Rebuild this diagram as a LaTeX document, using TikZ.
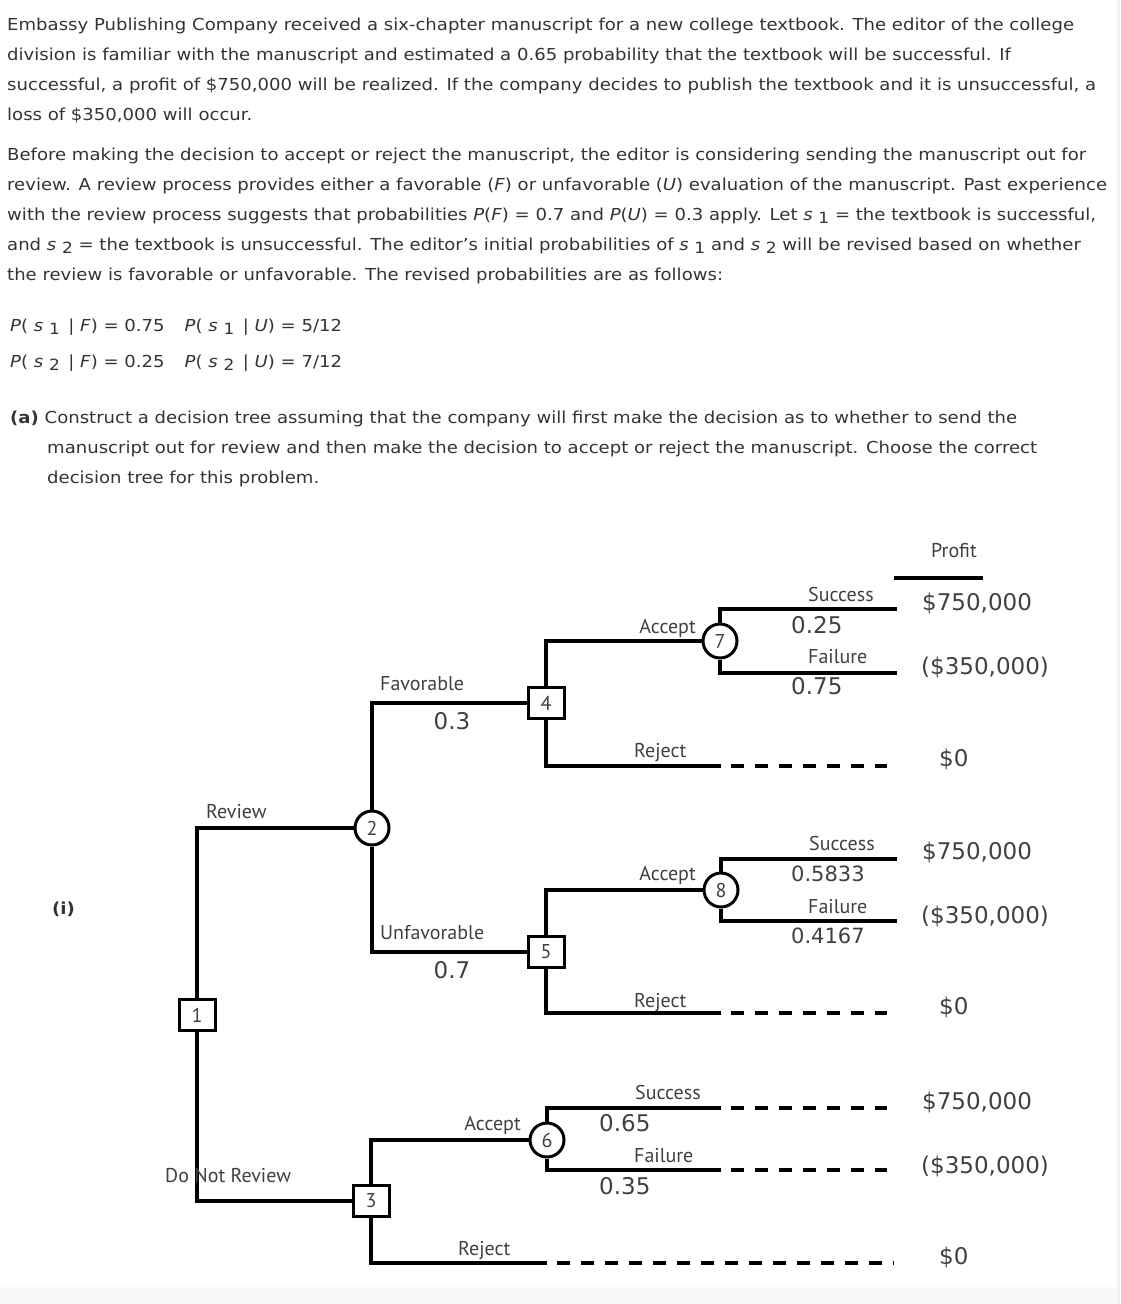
\documentclass[tikz,border=0pt]{standalone}
\usepackage{fontspec}
\setmainfont{DejaVu Sans}[FakeStretch=1.095]
\newfontfamily\numfont{DejaVu Sans}
\newfontfamily\lblfont{PT Sans}
\usetikzlibrary{positioning, calc}
\definecolor{cTxt}{RGB}{51,51,51}
\definecolor{cLbl}{RGB}{64,64,64}
\newcommand\subidx[1]{\raisebox{-3pt}{\fontsize{15.5}{15.5}\selectfont #1}}

\begin{document}
\begin{tikzpicture}[x=1pt, y=-1pt,
    body/.style={anchor=base west, inner sep=0pt, text=cTxt, font=\fontsize{16.5}{20}\selectfont},
    decision/.style={draw, rectangle, line width=3pt, minimum width=36pt, minimum height=31pt,
                     inner sep=0pt, fill=white, text=cLbl, font=\lblfont\fontsize{20}{20}\selectfont},
    chance/.style={draw, circle, line width=3pt, minimum size=34pt, inner sep=0pt,
                   fill=white, text=cLbl, font=\lblfont\fontsize{20}{20}\selectfont},
    branch/.style={line width=3.2pt},
    tail/.style={line width=3.2pt, dash pattern=on 13pt off 11pt},
    lbl/.style={inner sep=0pt, text=cLbl, text height=14pt, text depth=4pt, font=\lblfont\fontsize{20}{20}\selectfont},
    num/.style={inner sep=0pt, text=cLbl, text height=17pt, text depth=4pt, font=\numfont\fontsize{23}{23}\selectfont}]

    \useasboundingbox (0,0) rectangle (1120,1304);
    \fill[gray!5] (0,1287) rectangle (1120,1304);
    \fill[gray!10] (1117,0) rectangle (1120,1304);

    % Problem text
    \node[body] (t1) at (7,30) {Embassy Publishing Company received a six-chapter manuscript for a new college textbook. The editor of the college};
    \node[body] (t2) at (7,60) {division is familiar with the manuscript and estimated a 0.65 probability that the textbook will be successful. If};
    \node[body] (t3) at (7,90) {successful, a profit of \$750,000 will be realized. If the company decides to publish the textbook and it is unsuccessful, a};
    \node[body] (t4) at (7,120) {loss of \$350,000 will occur.};
    \node[body] (t5) at (7,160) {Before making the decision to accept or reject the manuscript, the editor is considering sending the manuscript out for};
    \node[body] (t6) at (7,190) {review. A review process provides either a favorable (\textit{F}) or unfavorable (\textit{U}) evaluation of the manuscript. Past experience};
    \node[body] (t7) at (7,220) {with the review process suggests that probabilities \textit{P}(\textit{F}) = 0.7 and \textit{P}(\textit{U}) = 0.3 apply. Let \textit{s} \subidx{1} = the textbook is successful,};
    \node[body] (t8) at (7,250) {and \textit{s} \subidx{2} = the textbook is unsuccessful. The editor’s initial probabilities of \textit{s} \subidx{1} and \textit{s} \subidx{2} will be revised based on whether};
    \node[body] (t9) at (7,280) {the review is favorable or unfavorable. The revised probabilities are as follows:};

    \node[body] (p1) at (10,331) {\textit{P}( \textit{s} \subidx{1} \,| \textit{F}) = 0.75\hspace{20pt}\textit{P}( \textit{s} \subidx{1} \,| \textit{U}) = 5/12};
    \node[body] (p2) at (10,367) {\textit{P}( \textit{s} \subidx{2} \,| \textit{F}) = 0.25\hspace{20pt}\textit{P}( \textit{s} \subidx{2} \,| \textit{U}) = 7/12};

    \node[body] (q1) at (10,423) {\textbf{(a)} Construct a decision tree assuming that the company will first make the decision as to whether to send the};
    \node[body] (q2) at (47,453) {manuscript out for review and then make the decision to accept or reject the manuscript. Choose the correct};
    \node[body] (q3) at (47,483) {decision tree for this problem.};

    \node[body, anchor=west] (opt) at (52,909) {\textbf{(i)}};

    % Decision and chance nodes
    \node[decision] (n1) at (197,1015) {1};
    \node[chance]   (n2) at (372,828)  {2};
    \node[decision] (n3) at (371,1201) {3};
    \node[decision] (n4) at (546,703)  {4};
    \node[decision] (n5) at (546,952)  {5};
    \node[chance]   (n6) at (547,1140) {6};
    \node[chance]   (n7) at (720,641)  {7};
    \node[chance]   (n8) at (721,890)  {8};

    % Branch end points
    \coordinate (s7) at (897,609);
    \coordinate (f7) at (897,673);
    \coordinate (s8) at (897,859);
    \coordinate (f8) at (897,921);
    \coordinate (r4) at (721,766);
    \coordinate (r5) at (721,1013);
    \coordinate (s6) at (721,1108);
    \coordinate (f6) at (721,1170);
    \coordinate (r3) at (547,1263);

    % Branches
    \draw[branch] (n1) |- (n2);
    \draw[branch] (n1) |- (n3);
    \draw[branch] (n2) |- (n4);
    \draw[branch] (n2) |- (n5);
    \draw[branch] (n4) |- (n7);
    \draw[branch] (n4) |- (r4);
    \draw[branch] (n5) |- (n8);
    \draw[branch] (n5) |- (r5);
    \draw[branch] (n3) |- (n6);
    \draw[branch] (n3) |- (r3);
    \draw[branch] (n7) |- (s7);
    \draw[branch] (n7) |- (f7);
    \draw[branch] (n8) |- (s8);
    \draw[branch] (n8) |- (f8);
    \draw[branch] (n6) |- (s6);
    \draw[branch] (n6) |- (f6);

    % Dashed tails to the payoffs
    \draw[tail] ($(r4)+(10,0)$) -- (887,766);
    \draw[tail] ($(r5)+(10,0)$) -- (887,1013);
    \draw[tail] ($(s6)+(10,0)$) -- (887,1108);
    \draw[tail] ($(f6)+(10,0)$) -- (887,1170);
    \draw[tail] ($(r3)+(10,0)$) -- (894,1263);

    % Branch labels
    \node[lbl, anchor=west] (lRev) at (206,813)  {Review};
    \node[lbl, anchor=west] (lDnr) at (165,1177) {Do Not Review};
    \node[lbl, anchor=west] (lFav) at (380,685)  {Favorable};
    \node[num]              (pFav) at (452,723)  {0.3};
    \node[lbl, anchor=west] (lUnf) at (380,934)  {Unfavorable};
    \node[num]              (pUnf) at (452,972)  {0.7};

    \node[lbl, anchor=east] (lAc4) at (696,628)  {Accept};
    \node[lbl, anchor=west] (lRj4) at (634,752)  {Reject};
    \node[lbl, anchor=east] (lAc5) at (696,875)  {Accept};
    \node[lbl, anchor=west] (lRj5) at (634,1002) {Reject};
    \node[lbl, anchor=east] (lAc3) at (521,1125) {Accept};
    \node[lbl, anchor=west] (lRj3) at (458,1250) {Reject};

    \node[lbl, anchor=west] (lSu7) at (808,596)  {Success};
    \node[num, anchor=west] (pSu7) at (791,627)  {0.25};
    \node[lbl, anchor=west] (lFa7) at (808,658)  {Failure};
    \node[num, anchor=west] (pFa7) at (791,688)  {0.75};

    \node[lbl, anchor=west] (lSu8) at (809,845)  {Success};
    \node[num, anchor=west, font=\numfont\fontsize{21}{21}\selectfont] (pSu8) at (791,875) {0.5833};
    \node[lbl, anchor=west] (lFa8) at (808,908)  {Failure};
    \node[num, anchor=west, font=\numfont\fontsize{21}{21}\selectfont] (pFa8) at (791,937) {0.4167};

    \node[lbl, anchor=west] (lSu6) at (635,1094) {Success};
    \node[num, anchor=west] (pSu6) at (599,1125) {0.65};
    \node[lbl, anchor=west] (lFa6) at (634,1157) {Failure};
    \node[num, anchor=west] (pFa6) at (599,1188) {0.35};

    % Profit column
    \node[lbl] (hProfit) at (954,552) {Profit};
    \coordinate (hl) at (894,578);
    \coordinate (hr) at (983,578);
    \draw[branch] (hl) -- (hr);

    \node[num, anchor=west] (v7s) at (922,604)  {\$750,000};
    \node[num, anchor=west] (v7f) at (921,668)  {(\$350,000)};
    \node[num, anchor=west] (v4r) at (939,760)  {\$0};
    \node[num, anchor=west] (v8s) at (922,853)  {\$750,000};
    \node[num, anchor=west] (v8f) at (921,917)  {(\$350,000)};
    \node[num, anchor=west] (v5r) at (939,1008) {\$0};
    \node[num, anchor=west] (v6s) at (922,1103) {\$750,000};
    \node[num, anchor=west] (v6f) at (921,1167) {(\$350,000)};
    \node[num, anchor=west] (v3r) at (939,1258) {\$0};

\end{tikzpicture}
\end{document}
